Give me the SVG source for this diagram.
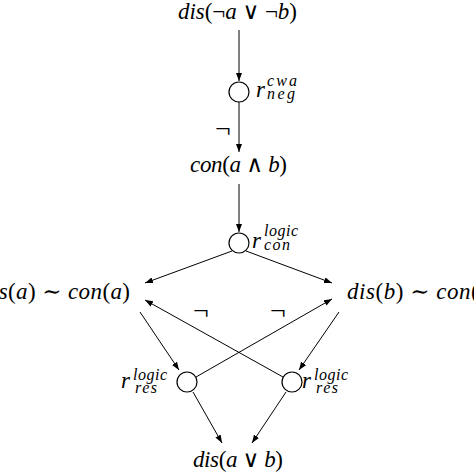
<svg xmlns="http://www.w3.org/2000/svg" width="474" height="474" viewBox="0 0 474 474">
<style>
.m{font-family:"Liberation Serif","DejaVu Serif",serif;font-size:23px;fill:#000}
.i{font-style:italic}
.r{font-family:"Liberation Serif","DejaVu Serif",serif;font-style:italic;font-size:23px;fill:#000}
.s{font-family:"Liberation Serif","DejaVu Serif",serif;font-style:italic;font-size:16px;fill:#000}
.neg{font-family:"Liberation Serif","DejaVu Serif",serif;font-size:28px;fill:#000}
.c{fill:#fff;stroke:#000;stroke-width:1.2}
.e{stroke:#000;stroke-width:1;fill:none;marker-end:url(#ah)}
</style>
<defs>
<marker id="ah" markerUnits="userSpaceOnUse" markerWidth="9" markerHeight="7" refX="8" refY="3" orient="auto">
<path d="M0,0 L8,3 L0,6 z" fill="#000"/>
</marker>
</defs>
<rect width="474" height="474" fill="#fff"/>
<g id="connectors">
<line class="e" x1="239" y1="30" x2="239" y2="81"/>
<line class="e" x1="239" y1="102" x2="239" y2="152"/>
<line class="e" x1="239" y1="184" x2="239" y2="232"/>
<line class="e" x1="232" y1="251" x2="145" y2="283"/>
<line class="e" x1="246" y1="251" x2="332" y2="283"/>
<line class="e" x1="140" y1="312" x2="179" y2="370"/>
<line class="e" x1="339" y1="312" x2="299" y2="370"/>
<line class="e" x1="196" y1="377" x2="332" y2="299"/>
<line class="e" x1="283" y1="377" x2="145" y2="300"/>
<line class="e" x1="193" y1="392" x2="222" y2="443"/>
<line class="e" x1="286" y1="392" x2="252" y2="443"/>
<text class="neg" x="223" y="138" text-anchor="middle">¬</text>
<text class="neg" x="201" y="320" text-anchor="middle">¬</text>
<text class="neg" x="278" y="320" text-anchor="middle">¬</text>
</g>
<g id="n_top"><text class="m" x="178" y="19" textLength="119" lengthAdjust="spacing"><tspan class="i">dis</tspan>(¬<tspan class="i">a</tspan> ∨ ¬<tspan class="i">b</tspan>)</text></g>
<g id="r_neg"><circle class="c" cx="239" cy="92" r="10"/><text class="r" x="256" y="97">r</text><text class="s" x="267" y="86" textLength="30" lengthAdjust="spacing">cwa</text><text class="s" x="267" y="99" textLength="28" lengthAdjust="spacing">neg</text></g>
<g id="n_con"><text class="m" x="190" y="172" textLength="97" lengthAdjust="spacing"><tspan class="i">con</tspan>(<tspan class="i">a</tspan> ∧ <tspan class="i">b</tspan>)</text></g>
<g id="r_con"><circle class="c" cx="239" cy="243" r="10"/><text class="r" x="252" y="248">r</text><text class="s" x="264" y="236" textLength="34" lengthAdjust="spacing">logic</text><text class="s" x="264" y="250" textLength="26" lengthAdjust="spacing">con</text></g>
<g id="n_a"><text class="m" x="-20" y="299" textLength="150" lengthAdjust="spacing"><tspan class="i">dis</tspan>(<tspan class="i">a</tspan>) ∼ <tspan class="i">con</tspan>(<tspan class="i">a</tspan>)</text></g>
<g id="n_b"><text class="m" x="347" y="299" textLength="152" lengthAdjust="spacing"><tspan class="i">dis</tspan>(<tspan class="i">b</tspan>) ∼ <tspan class="i">con</tspan>(<tspan class="i">b</tspan>)</text></g>
<g id="r_res_l"><circle class="c" cx="187" cy="382" r="10"/><text class="r" x="121" y="388">r</text><text class="s" x="133" y="380" textLength="34" lengthAdjust="spacing">logic</text><text class="s" x="135" y="393" textLength="22" lengthAdjust="spacing">res</text></g>
<g id="r_res_r"><circle class="c" cx="292" cy="382" r="10"/><text class="r" x="302" y="388">r</text><text class="s" x="314" y="380" textLength="34" lengthAdjust="spacing">logic</text><text class="s" x="316" y="393" textLength="22" lengthAdjust="spacing">res</text></g>
<g id="n_bottom"><text class="m" x="193" y="467" textLength="90" lengthAdjust="spacing"><tspan class="i">dis</tspan>(<tspan class="i">a</tspan> ∨ <tspan class="i">b</tspan>)</text></g>
</svg>
